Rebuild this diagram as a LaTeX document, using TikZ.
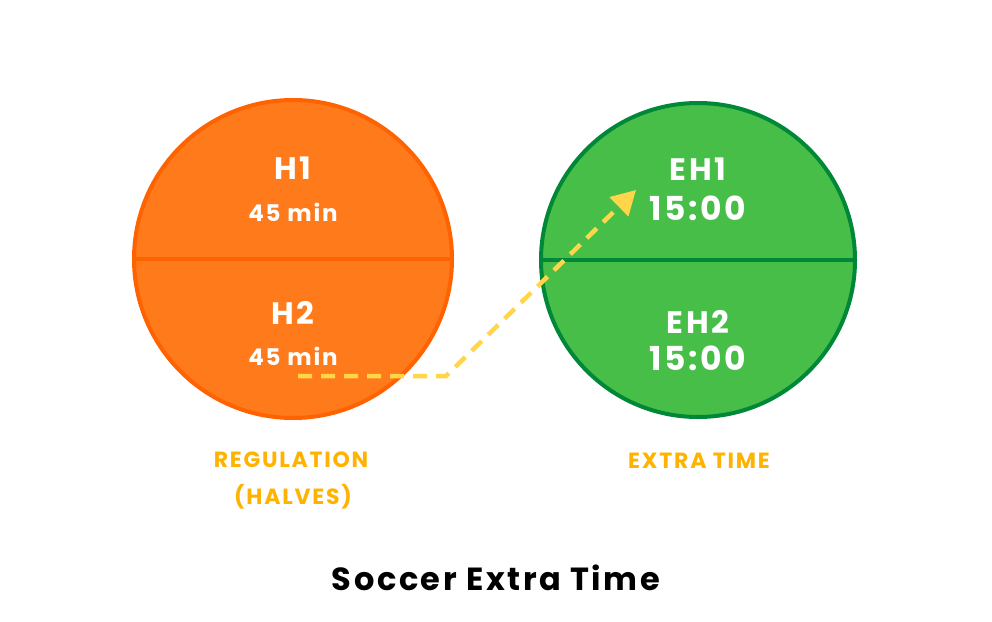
\documentclass[tikz,border=0pt]{standalone}
\usepackage{fontspec}
\setmainfont{Poppins}
\newfontfamily\spacedfont[LetterSpace=8]{Poppins}
\usetikzlibrary{arrows.meta}

\begin{document}
\begin{tikzpicture}[
    x=1pt, y=-1pt,
    half/.style={circle, inner sep=0pt, minimum size=318pt, line width=4pt},
    halftext/.style={text=white, font=\bfseries\fontsize{31}{31}\selectfont\spacedfont},
    clocktext/.style={text=white, font=\bfseries\fontsize{33}{33}\selectfont\spacedfont},
    mintext/.style={text=white, font=\bfseries\fontsize{23}{23}\selectfont\spacedfont},
    caption/.style={text=c_amber, font=\bfseries\fontsize{22}{22}\selectfont\spacedfont},
    path/.style={line width=4.5pt, c_yellow, dash pattern=on 14pt off 9pt}
]

    % Colores
    \definecolor{c_orange}{RGB}{255, 122, 26}
    \definecolor{c_orangeline}{RGB}{255, 98, 0}
    \definecolor{c_green}{RGB}{70, 190, 72}
    \definecolor{c_greenline}{RGB}{0, 135, 55}
    \definecolor{c_amber}{RGB}{255, 179, 0}
    \definecolor{c_yellow}{RGB}{255, 214, 74}

    \useasboundingbox (0,0) rectangle (992,621);

    % Círculos
    \node[half, fill=c_orange, draw=c_orangeline] (reg) at (293, 259) {};
    \node[half, fill=c_green, draw=c_greenline, minimum size=314pt] (ext) at (698, 260) {};

    % Líneas divisorias
    \draw[line width=4pt, c_orangeline] (reg.west) -- (reg.east);
    \draw[line width=4pt, c_greenline] (ext.west) -- (ext.east);

    % Textos de los tiempos
    \node[halftext] (h1) at (293, 168) {H1};
    \node[mintext] (h1min) at (293, 212) {45 min};
    \node[halftext] (h2) at (293, 313) {H2};
    \node[mintext] (h2min) at (293, 356) {45 min};
    \node[halftext] (eh1) at (698, 169) {EH1};
    \node[clocktext] (eh1min) at (698, 208) {15:00};
    \node[halftext] (eh2) at (698, 322) {EH2};
    \node[clocktext] (eh2min) at (698, 358) {15:00};

    % Camino a la prórroga
    \coordinate (start) at (298, 376);
    \coordinate (bend) at (446, 376);
    \coordinate (goal) at (636, 190);
    \draw[path, -{Triangle[length=24pt, width=26pt]}] (start) -- (bend) -- (goal);

    % Etiquetas
    \node[caption] (lreg) at (291, 460) {REGULATION};
    \node[caption] (lhalves) at (293, 497) {(HALVES)};
    \node[caption] (lext) at (699, 461) {EXTRA TIME};

    % Título
    \node[font=\bfseries\fontsize{32}{32}\selectfont\spacedfont] (title) at (496, 578) {Soccer Extra Time};

\end{tikzpicture}
\end{document}
